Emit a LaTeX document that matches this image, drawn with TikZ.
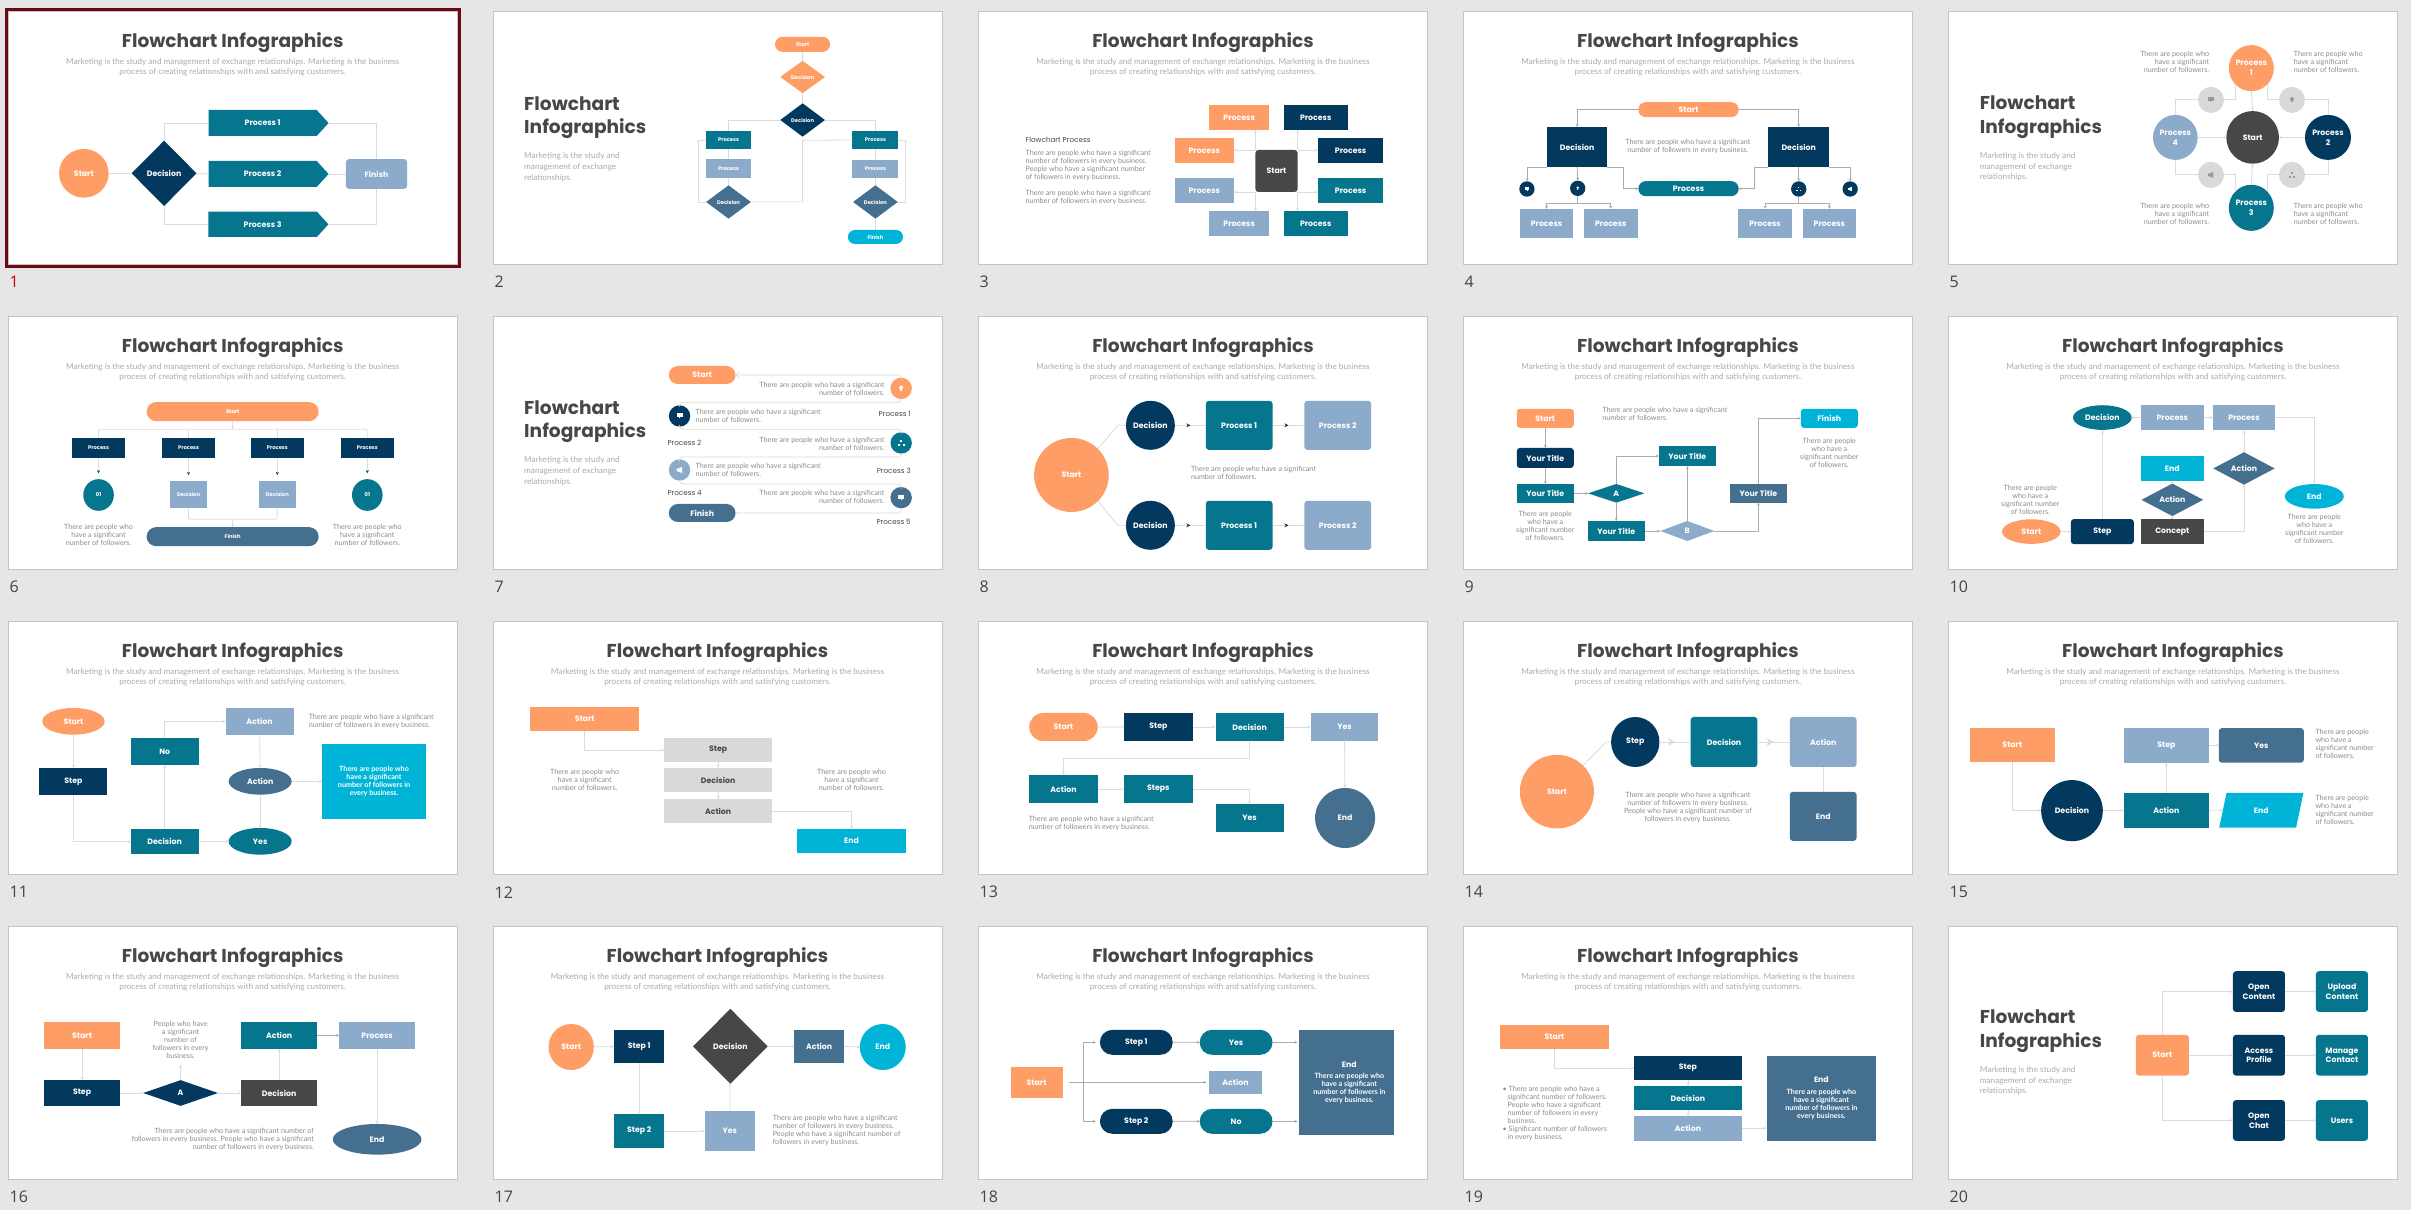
\documentclass[tikz,border=0pt]{standalone}
\usepackage{fontspec}
\usetikzlibrary{arrows.meta,shapes.geometric,shapes.misc,shapes.symbols,decorations.markings}
\newfontfamily\poppins{Poppins}
\newfontfamily\bodyfont{Lato}
\newfontfamily\numfont{Open Sans}
\definecolor{orangeb}{HTML}{FF9D66}
\definecolor{navyb}{HTML}{03395E}
\definecolor{tealb}{HTML}{06758E}
\definecolor{blueb}{HTML}{8CABCB}
\definecolor{slateb}{HTML}{456F8F}
\definecolor{cyanb}{HTML}{00B4D8}
\definecolor{darkb}{HTML}{474747}
\definecolor{greyb}{HTML}{D9D9D9}
\definecolor{lineg}{HTML}{DCDCDC}
\definecolor{lined}{HTML}{ABABAB}
\definecolor{noteg}{HTML}{8C8C8C}
\definecolor{subg}{HTML}{ABABAB}
\definecolor{bgg}{HTML}{E6E6E6}
\definecolor{numg}{HTML}{444444}
\definecolor{redn}{HTML}{C00000}
\definecolor{selred}{HTML}{6B0A12}
\newcommand{\ttltxt}{Flowchart Infographics}
\newcommand{\ttlleft}{Flowchart\\Infographics}
\newcommand{\subtxt}{Marketing is the study and management of exchange relationships. Marketing is the business\\process of creating relationships with and satisfying customers.}
\newcommand{\subleft}{Marketing is the study and\\management of exchange\\relationships.}
\newcommand{\txwide}{There are people who have a significant\\number of followers.}
\newcommand{\txbus}{There are people who have a significant\\number of followers in every business.}
\newcommand{\txfour}{There are people\\who have a\\significant number\\of followers.}
\newcommand{\txthree}{There are people who\\have a significant\\number of followers.}
\newcommand{\txbox}{There are people who\\have a significant\\number of followers in\\every business.}
\tikzset{
	block/.style={inner sep=0,outer sep=0,align=center,text=white,font=\poppins\bfseries\fontsize{7.8}{9.8}\selectfont},
	small/.style={font=\poppins\bfseries\fontsize{5.2}{7}\selectfont},
	box/.style={block,fill=#1},
	round/.style={block,fill=#1,rounded corners=3pt},
	pill/.style={block,fill=#1,rounded rectangle},
	circ/.style={block,fill=#1,ellipse},
	dmd/.style={block,fill=#1,diamond},
	sgn/.style={block,fill=#1,signal,signal to=east,signal pointer angle=95},
	sz/.style 2 args={minimum width=#1*.6122pt,minimum height=#2*.3333pt},
	szb/.style 2 args={minimum width=#1*.3333pt,minimum height=#2*.3843pt},
	panela/.style={x=.6122pt,y=-.3333pt},
	panelb/.style={x=.3333pt,y=-.3827pt},
	panelc/.style={x=.3333pt,y=-.3858pt},
	ln/.style={draw=lineg,line width=.8pt},
	lnd/.style={draw=lined,line width=.8pt},
	ar/.style={ln,-{Stealth[length=3pt,width=3pt]}},
	ard/.style={lnd,-{Stealth[length=3pt,width=3pt]}},
	midtip/.style={ln,postaction={decorate},decoration={markings,mark=at position .5 with {\arrow{Stealth[length=4pt,width=4pt,color=navyb]}}}},
	bigtip/.style={ln,postaction={decorate},decoration={markings,mark=at position .5 with {\arrow{Stealth[length=7pt,width=8pt,color=lineg]}}}},
	ttl/.style={inner sep=0,yshift=-1.4pt,text=darkb,font=\poppins\bfseries\fontsize{18.6}{23.4}\selectfont},
	ttll/.style={ttl,align=left,anchor=west},
	subt/.style={inner sep=0,align=center,text=subg,font=\bodyfont\fontsize{8.2}{10}\selectfont},
	subl/.style={inner sep=0,align=left,anchor=west,text=subg,font=\bodyfont\fontsize{8.2}{10.7}\selectfont},
	note/.style={inner sep=0,align=center,text=noteg,font=\bodyfont\fontsize{7.2}{8}\selectfont},
	notel/.style={note,align=left,anchor=west},
	noter/.style={note,align=right,anchor=east},
	dlab/.style={inner sep=0,text=darkb,font=\poppins\fontsize{7.2}{8}\selectfont},
	slide/.style={inner sep=0,outer sep=0,fill=white,draw=black!23,line width=.8pt,minimum width=449pt,minimum height=252.5pt},
	screenic/.pic={\fill (-3pt,-1pt) rectangle (3pt,2.5pt); \fill (-.5pt,-2.5pt) rectangle (.5pt,-1pt);},
	bulbic/.pic={\fill (0,.8pt) circle (2pt); \fill (-1pt,-2.5pt) rectangle (1pt,-.8pt);},
	treeic/.pic={\fill (-1pt,1pt) rectangle (1pt,3pt); \fill (-3.4pt,-3pt) rectangle (-1.4pt,-1pt); \fill (1.4pt,-3pt) rectangle (3.4pt,-1pt);},
	megaic/.pic={\fill (-3pt,-1pt) -- (2.5pt,-3pt) -- (2.5pt,3pt) -- (-3pt,1pt) -- cycle;},
}
\begin{document}
\begin{tikzpicture}[x=1pt,y=-1pt]
	\useasboundingbox (0,0) rectangle (2411,1210);
	\fill[bgg] (0,0) rectangle (2411,1210);
	% the slide sheets and their numbers
	\foreach \r in {0,...,3} {
		\foreach \c in {0,...,4} {
			\pgfmathtruncatemacro{\n}{\r*5+\c+1}
			\pgfmathsetmacro{\sx}{8.5+485*\c}
			\pgfmathsetmacro{\sy}{11.7+305*\r}
			\edef\pgcol{\ifnum\n=1 redn\else numg\fi}
			\node (pg\n) [slide] at (\sx+224.5,\sy+126.25) {};
			\node (nm\n) [inner sep=0,anchor=west,text=\pgcol,font=\numfont\fontsize{16}{18}\selectfont] at (\sx+1,\sy+270.5) {\n};
		}
	}
	\node (sel) [inner sep=0,draw=selred,line width=2.5pt,minimum width=453pt,minimum height=257pt] at (pg1) {};

	% slides 1 and 2
	\begin{scope}[shift={(0,0)},panela]
		\node (t1) [ttl] at (380,125) {\ttltxt};
		\node (u1) [subt] at (380,202) {\subtxt};
		\node (s1start) [circ=orangeb,sz={81}{146}] at (137,520) {Start};
		\node (s1dec) [dmd=navyb,sz={106}{196}] at (268,520) {Decision};
		\node (s1a) [sgn=tealb,sz={196}{78}] at (429,369) {Process 1};
		\node (s1b) [sgn=tealb,sz={196}{78}] at (429,522) {Process 2};
		\node (s1c) [sgn=tealb,sz={196}{76}] at (429,673) {Process 3};
		\node (s1end) [round=blueb,sz={100}{89}] at (615,522) {Finish};
		\draw [ln] (s1start) -- (s1dec);
		\draw [ln] (s1dec.north) |- (s1a.west);
		\draw [ln] (s1dec.east) -- (s1b.west);
		\draw [ln] (s1dec.south) |- (s1c.west);
		\draw [ln] (s1a.east) -| (s1end.north);
		\draw [ln] (s1b.east) -- (s1end.west);
		\draw [ln] (s1c.east) -| (s1end.south);

		\node (t2) [ttll] at (856,349) {\ttlleft};
		\node (u2) [subl] at (856,501) {\subleft};
		\node (s2start) [pill=orangeb,small,sz={90}{45}] at (1311,133) {Start};
		\node (s2d1) [dmd=orangeb,small,sz={73}{97}] at (1311,231) {Decision};
		\node (s2d2) [dmd=navyb,small,sz={73}{100}] at (1311,360) {Decision};
		\node (s2a1) [box=tealb,small,sz={75}{54}] at (1190,420) {Process};
		\node (s2a2) [box=blueb,small,sz={75}{57}] at (1190,505) {Process};
		\node (s2a3) [dmd=slateb,small,sz={73}{100}] at (1190,606) {Decision};
		\node (s2b1) [box=tealb,small,sz={75}{54}] at (1430,420) {Process};
		\node (s2b2) [box=blueb,small,sz={75}{55}] at (1430,507) {Process};
		\node (s2b3) [dmd=slateb,small,sz={73}{100}] at (1430,606) {Decision};
		\node (s2end) [pill=cyanb,small,sz={90}{42}] at (1430,711) {Finish};
		\coordinate (s2j) at (1311,421);
		\draw [ln] (s2start) -- (s2d1);
		\draw [ln] (s2d1) -- (s2d2);
		\draw [ln] (s2d2.west) -| (s2a1.north);
		\draw [ln] (s2d2.east) -| (s2b1.north);
		\draw [ln] (s2a1) -- (s2a2);
		\draw [ln] (s2a2) -- (s2a3);
		\draw [ln] (s2b1) -- (s2b2);
		\draw [ln] (s2b2) -- (s2b3);
		\draw [ln] (s2b3) -- (s2end);
		\draw [ln] (s2a3.east) -| (s2j) -- (s2b1.west);
		\draw [ln] (s2a3.west) -- ++(-13,0) |- (s2a1.west);
		\draw [ln] (s2b3.east) -- ++(13,0) |- (s2b1.east);
	\end{scope}

	% slides 3 and 4
	\begin{scope}[shift={(960,0)},panela]
		\node (t3) [ttl] at (397,125) {\ttltxt};
		\node (u3) [subt] at (397,202) {\subtxt};
		\node (s3h) [dlab,anchor=west] at (107,421) {Flowchart Process};
		\node (s3n1) [notel] at (107,497) {There are people who have a significant\\number of followers in every business.\\People who have a significant number\\of followers in every business.};
		\node (s3n2) [notel] at (107,593) {\txbus};
		\node (s3start) [round=darkb,sz={69}{126}] at (517,513) {Start};
		\node (s3a) [box=orangeb,sz={98}{75}] at (456,352) {Process};
		\node (s3b) [box=navyb,sz={105}{75}] at (581,352) {Process};
		\node (s3c) [box=orangeb,sz={97}{75}] at (399,451) {Process};
		\node (s3d) [box=navyb,sz={105}{75}] at (638,451) {Process};
		\node (s3e) [box=blueb,sz={97}{77}] at (399,572) {Process};
		\node (s3f) [box=tealb,sz={105}{77}] at (638,572) {Process};
		\node (s3g) [box=blueb,sz={98}{74}] at (456,670) {Process};
		\node (s3i) [box=tealb,sz={105}{74}] at (581,670) {Process};
		\draw [ar] (s3start.north west) -- (s3start.north west |- s3a.south);
		\draw [ar] (s3start.north east) -- (s3start.north east |- s3b.south);
		\draw [ar] (s3start.north west) -- (s3c.east |- s3start.north west);
		\draw [ar] (s3start.north east) -- (s3d.west |- s3start.north east);
		\draw [ar] (s3start.south west) -- (s3e.east |- s3start.south west);
		\draw [ar] (s3start.south east) -- (s3f.west |- s3start.south east);
		\draw [ar] (s3start.south west) -- (s3start.south west |- s3g.north);
		\draw [ar] (s3start.south east) -- (s3start.south east |- s3i.north);

		\node (t4) [ttl] at (1189,125) {\ttltxt};
		\node (u4) [subt] at (1189,202) {\subtxt};
		\node (s4start) [pill=orangeb,sz={164}{45}] at (1190,329) {Start};
		\node (s4dl) [box=navyb,sz={99}{120}] at (1008,441) {Decision};
		\node (s4dr) [box=navyb,sz={99}{120}] at (1370,441) {Decision};
		\node (s4n) [note] at (1189,440) {\txbus};
		\node (s4proc) [pill=tealb,sz={164}{45}] at (1190,566) {Process};
		\node (s4i1) [circ=navyb,sz={25}{46}] at (926,567) {};
		\node (s4i2) [circ=navyb,sz={25}{46}] at (1009,565) {};
		\node (s4i3) [circ=navyb,sz={25}{46}] at (1370,567) {};
		\node (s4i4) [circ=navyb,sz={25}{46}] at (1454,567) {};
		\pic [white,scale=.7] at (s4i1) {screenic};
		\pic [white,scale=.7] at (s4i2) {bulbic};
		\pic [white,scale=.7] at (s4i3) {treeic};
		\pic [white,scale=.7] at (s4i4) {megaic};
		\node (s4b1) [box=blueb,sz={86}{89}] at (958,671) {Process};
		\node (s4b2) [box=blueb,sz={88}{89}] at (1063,671) {Process};
		\node (s4b3) [box=blueb,sz={88}{89}] at (1315,671) {Process};
		\node (s4b4) [box=blueb,sz={86}{89}] at (1420,671) {Process};
		\coordinate (s4j1) at (1009,610);
		\coordinate (s4j2) at (1370,610);
		\draw [ard] (s4start.west) -| (s4dl.north);
		\draw [ard] (s4start.east) -| (s4dr.north);
		\draw [ard] (s4dl.south west) -| (s4i1.north);
		\draw [ard] (s4dl.south) -- (s4i2.north);
		\draw [ard] (s4dl.south east) -- ++(26,0) |- (s4proc.west);
		\draw [ard] (s4dr.south west) -- ++(-23,0) |- (s4proc.east);
		\draw [ard] (s4dr.south) -- (s4i3.north);
		\draw [ard] (s4dr.south east) -| (s4i4.north);
		\draw [lnd] (s4i2.south) -- (s4j1);
		\draw [lnd] (s4i3.south) -- (s4j2);
		\draw [ard] (s4j1) -| (s4b1.north);
		\draw [ard] (s4j1) -| (s4b2.north);
		\draw [ard] (s4j2) -| (s4b3.north);
		\draw [ard] (s4j2) -| (s4b4.north);
	\end{scope}

	% slides 5 and 10
	\begin{scope}[shift={(1900,0)},panelb]
		\node (t5) [ttll] at (239,302) {\ttlleft};
		\node (u5) [subl] at (239,436) {\subleft};
		\node (s5start) [circ=darkb,szb={158}{137}] at (1058,359) {Start};
		\node (s5a) [circ=orangeb,szb={135}{120}] at (1054,178) {Process\\1};
		\node (s5b) [circ=navyb,szb={138}{117}] at (1284,359) {Process\\2};
		\node (s5c) [circ=tealb,szb={135}{120}] at (1054,543) {Process\\3};
		\node (s5d) [circ=blueb,szb={134}{117}] at (826,359) {Process\\4};
		\node (s5i1) [circ=greyb,szb={78}{68}] at (933,261) {};
		\node (s5i2) [circ=greyb,szb={78}{68}] at (1176,261) {};
		\node (s5i3) [circ=greyb,szb={78}{68}] at (933,457) {};
		\node (s5i4) [circ=greyb,szb={78}{68}] at (1176,457) {};
		\pic [black!40] at (s5i1) {screenic};
		\pic [black!40] at (s5i2) {bulbic};
		\pic [black!40] at (s5i3) {megaic};
		\pic [black!40] at (s5i4) {treeic};
		\node (s5n1) [noter] at (928,161) {\txthree};
		\node (s5n2) [notel] at (1181,161) {\txthree};
		\node (s5n3) [noter] at (928,558) {\txthree};
		\node (s5n4) [notel] at (1181,558) {\txthree};
		\draw [ar] (s5a.south) -- (s5start.north);
		\draw [ar] (s5c.north) -- (s5start.south);
		\draw [ar] (s5b.west) -- (s5start.east);
		\draw [ar] (s5d.east) -- (s5start.west);
		\draw [ln] (s5a.south west) |- (s5i1.east);
		\draw [ln] (s5i1.west) -| (s5d.north);
		\draw [ln] (s5a.south east) |- (s5i2.west);
		\draw [ln] (s5i2.east) -| (s5b.north);
		\draw [ln] (s5c.north west) |- (s5i3.east);
		\draw [ln] (s5i3.west) -| (s5d.south);
		\draw [ln] (s5c.north east) |- (s5i4.west);
		\draw [ln] (s5i4.east) -| (s5b.south);

		\node (t10) [ttl] at (819,905) {\ttltxt};
		\node (u10) [subt] at (819,972) {\subtxt};
		\node (s10dec) [circ=tealb,szb={176}{64}] at (607,1091) {Decision};
		\node (s10p1) [box=blueb,szb={189}{66}] at (817,1091) {Process};
		\node (s10p2) [box=blueb,szb={186}{66}] at (1032,1091) {Process};
		\node (s10e1) [box=cyanb,szb={189}{65}] at (817,1224) {End};
		\node (s10a1) [dmd=slateb,szb={184}{65}] at (1032,1224) {Action};
		\node (s10a2) [dmd=slateb,szb={185}{67}] at (817,1306) {Action};
		\node (s10con) [box=darkb,szb={189}{65}] at (817,1389) {Concept};
		\node (s10step) [round=navyb,szb={189}{65}] at (607,1389) {Step};
		\node (s10start) [circ=orangeb,szb={176}{64}] at (394,1389) {Start};
		\node (s10e2) [circ=cyanb,szb={177}{64}] at (1243,1297) {End};
		\node (s10n1) [note] at (391,1305) {\txfour};
		\node (s10n2) [note] at (1243,1381) {\txfour};
		\draw [ar] (s10start) -- (s10step);
		\draw [ar] (s10step) -- (s10dec);
		\draw [ar] (s10p1) -- (s10dec);
		\draw [ar] (s10p1) -- (s10p2);
		\draw [ar] (s10p2.east) -| (s10e2.north);
		\draw [ar] (s10con.east) -| (s10a1.south);
		\draw [ar] (s10a1) -- (s10p2);
		\draw [ar] (s10con) -- (s10a2);
		\draw [ar] (s10a2) -- (s10e1);
	\end{scope}

	% slides 6 and 7
	\begin{scope}[shift={(0,300)},panela]
		\node (t6) [ttl] at (380,140) {\ttltxt};
		\node (u6) [subt] at (380,217) {\subtxt};
		\node (s6start) [pill=orangeb,small,sz={281}{57}] at (380,335) {Start};
		\node (s6a) [box=navyb,small,sz={86}{60}] at (161,444) {Process};
		\node (s6b) [box=navyb,small,sz={86}{60}] at (308,444) {Process};
		\node (s6c) [box=navyb,small,sz={87}{60}] at (453,444) {Process};
		\node (s6d) [box=navyb,small,sz={87}{60}] at (600,444) {Process};
		\node (s6e) [circ=tealb,small,sz={50}{95}] at (161,585) {01};
		\node (s6f) [box=blueb,small,sz={60}{80}] at (308,583) {Decision};
		\node (s6g) [box=blueb,small,sz={60}{80}] at (453,583) {Decision};
		\node (s6h) [circ=tealb,small,sz={50}{95}] at (600,585) {01};
		\node (s6end) [pill=slateb,small,sz={281}{57}] at (380,710) {Finish};
		\node (s6n1) [note] at (161,704) {\txthree};
		\node (s6n2) [note] at (600,704) {\txthree};
		\coordinate (s6j1) at (380,388);
		\coordinate (s6j2) at (380,658);
		\draw [ar] (s6start.south) -- (s6j1);
		\draw [ln,rounded corners=2pt] (s6j1) -| (s6a.north);
		\draw [ln] (s6b.north |- s6j1) -- (s6b.north);
		\draw [ln] (s6c.north |- s6j1) -- (s6c.north);
		\draw [ln,rounded corners=2pt] (s6j1) -| (s6d.north);
		\foreach \u/\v in {a/e,b/f,c/g,d/h} {
			\draw [ln,shorten >=6pt,-{Stealth[length=3pt,width=3pt,color=navyb]}] (s6\u.south) -- (s6\v.north);
		}
		\draw [ln,rounded corners=2pt] (s6f.south) |- (s6j2);
		\draw [ln,rounded corners=2pt] (s6g.south) |- (s6j2);
		\draw [ar] (s6j2) -- (s6end.north);

		\node (t7) [ttll] at (856,361) {\ttlleft};
		\node (u7) [subl] at (856,513) {\subleft};
		\node (s7start) [pill=orangeb,sz={109}{54}] at (1147,225) {Start};
		\node (s7end) [pill=slateb,sz={109}{54}] at (1147,639) {Finish};
		\node (s7i1) [circ=orangeb,sz={35}{64}] at (1472,265) {};
		\node (s7i2) [circ=navyb,sz={35}{64}] at (1110,348) {};
		\node (s7i3) [circ=tealb,sz={35}{64}] at (1472,429) {};
		\node (s7i4) [circ=blueb,sz={35}{64}] at (1110,510) {};
		\node (s7i5) [circ=slateb,sz={35}{64}] at (1472,593) {};
		\pic [white] at (s7i1) {bulbic};
		\pic [white] at (s7i2) {screenic};
		\pic [white] at (s7i3) {treeic};
		\pic [white] at (s7i4) {megaic};
		\pic [white] at (s7i5) {screenic};
		\node (s7n1) [noter] at (1445,266) {\txwide};
		\node (s7n2) [notel] at (1136,347) {\txwide};
		\node (s7n3) [noter] at (1445,431) {\txwide};
		\node (s7n4) [notel] at (1136,509) {\txwide};
		\node (s7n5) [noter] at (1445,590) {\txwide};
		\node (s7l1) [dlab,anchor=east] at (1488,343) {Process 1};
		\node (s7l2) [dlab,anchor=west] at (1090,430) {Process 2};
		\node (s7l3) [dlab,anchor=east] at (1488,514) {Process 3};
		\node (s7l4) [dlab,anchor=west] at (1090,580) {Process 4};
		\node (s7l5) [dlab,anchor=east] at (1488,667) {Process 5};
		\coordinate (s7w1) at (1300,307);
		\coordinate (s7w2) at (1300,388);
		\coordinate (s7w3) at (1300,471);
		\coordinate (s7w4) at (1300,552);
		\draw [ar,<-,rounded corners=3pt] (s7start.east) -| (s7i1.north);
		\draw [ln,rounded corners=3pt] (s7i1.south) |- (s7w1) -| (s7i2.north);
		\draw [ln,rounded corners=3pt] (s7i2.south) |- (s7w2) -| (s7i3.north);
		\draw [ln,rounded corners=3pt] (s7i3.south) |- (s7w3) -| (s7i4.north);
		\draw [ln,rounded corners=3pt] (s7i4.south) |- (s7w4) -| (s7i5.north);
		\draw [ar,rounded corners=3pt] (s7i5.south) |- (s7end.east);
	\end{scope}

	% slides 8 and 9
	\begin{scope}[shift={(960,300)},panela]
		\node (t8) [ttl] at (397,140) {\ttltxt};
		\node (u8) [subt] at (397,217) {\subtxt};
		\node (s8start) [circ=orangeb,sz={122}{222}] at (182,525) {Start};
		\node (s8d1) [circ=navyb,sz={80}{147}] at (311,376) {Decision};
		\node (s8d2) [circ=navyb,sz={80}{147}] at (311,676) {Decision};
		\node (s8a1) [round=tealb,sz={109}{147}] at (456,376) {Process 1};
		\node (s8a2) [round=tealb,sz={109}{147}] at (456,676) {Process 1};
		\node (s8b1) [round=blueb,sz={109}{147}] at (617,376) {Process 2};
		\node (s8b2) [round=blueb,sz={109}{147}] at (617,676) {Process 2};
		\node (s8n) [notel] at (377,520) {\txwide};
		\draw [ln] (s8start.north east) -- ([xshift=-8pt]s8d1.west) -- (s8d1.west);
		\draw [ln] (s8start.south east) -- ([xshift=-8pt]s8d2.west) -- (s8d2.west);
		\draw [midtip] (s8d1) -- (s8a1);
		\draw [midtip] (s8a1) -- (s8b1);
		\draw [midtip] (s8d2) -- (s8a2);
		\draw [midtip] (s8a2) -- (s8b2);

		\node (t9) [ttl] at (1189,140) {\ttltxt};
		\node (u9) [subt] at (1189,217) {\subtxt};
		\node (s9start) [round=orangeb,sz={93}{57}] at (956,355) {Start};
		\node (s9y1) [round=navyb,sz={93}{60}] at (956,474) {Your Title};
		\node (s9y2) [box=tealb,sz={93}{56}] at (956,580) {Your Title};
		\node (s9a) [dmd=tealb,sz={92}{56}] at (1072,580) {A};
		\node (s9y3) [box=tealb,sz={93}{60}] at (1188,468) {Your Title};
		\node (s9y4) [box=tealb,sz={93}{60}] at (1072,693) {Your Title};
		\node (s9b) [dmd=blueb,sz={88}{60}] at (1188,693) {B};
		\node (s9y5) [box=slateb,sz={93}{56}] at (1304,580) {Your Title};
		\node (s9end) [round=cyanb,sz={93}{57}] at (1420,355) {Finish};
		\node (s9n1) [note] at (956,677) {\txfour};
		\node (s9n2) [notel] at (1049,341) {\txwide};
		\node (s9n3) [note] at (1420,458) {\txfour};
		\draw [ard] (s9start) -- (s9y1);
		\draw [ard] (s9y1) -- (s9y2);
		\draw [ard] (s9y2) -- (s9a);
		\draw [ard] (s9a.north) |- (s9y3.west);
		\draw [ard] (s9a.south) -- (s9y4.north);
		\draw [ard] (s9y4) -- (s9b);
		\draw [ard] (s9b.north) -- (s9y3.south);
		\draw [ard] (s9b.east) -| (s9y5.south);
		\draw [ard] (s9y5.north) |- (s9end.west);
	\end{scope}

	% slides 11 and 12
	\begin{scope}[shift={(0,605)},panela]
		\node (t11) [ttl] at (380,140) {\ttltxt};
		\node (u11) [subt] at (380,217) {\subtxt};
		\node (s11start) [circ=orangeb,sz={102}{80}] at (120,349) {Start};
		\node (s11step) [box=navyb,sz={111}{81}] at (120,529) {Step};
		\node (s11no) [box=tealb,sz={111}{81}] at (269,439) {No};
		\node (s11act) [box=blueb,sz={111}{81}] at (424,349) {Action};
		\node (s11ac2) [circ=slateb,sz={103}{80}] at (425,529) {Action};
		\node (s11dec) [box=tealb,sz={111}{77}] at (269,710) {Decision};
		\node (s11yes) [circ=tealb,sz={103}{80}] at (425,709) {Yes};
		\node (s11big) [box=cyanb,font=\bodyfont\bfseries\fontsize{7.2}{8}\selectfont,sz={170}{224}] at (611,529) {\txbox};
		\node (s11n) [notel] at (504,350) {\txbus};
		\draw [ar] (s11start) -- (s11step);
		\draw [ar] (s11step.south) |- (s11dec.west);
		\draw [ar] (s11dec) -- (s11no);
		\draw [ar] (s11no.north) |- (s11act.west);
		\draw [ar] (s11act) -- (s11ac2);
		\draw [ar] (s11ac2) -- (s11yes);
		\draw [ar] (s11ac2) -- (s11big);
		\draw [ar] (s11dec) -- (s11yes);

		\node (t12) [ttl] at (1172,140) {\ttltxt};
		\node (u12) [subt] at (1172,217) {\subtxt};
		\node (s12start) [box=orangeb,sz={178}{72}] at (955,342) {Start};
		\node (s12step) [box=greyb,text=darkb,sz={176}{72}] at (1173,435) {Step};
		\node (s12dec) [box=greyb,text=darkb,sz={176}{72}] at (1173,525) {Decision};
		\node (s12act) [box=greyb,text=darkb,sz={176}{72}] at (1173,618) {Action};
		\node (s12end) [box=cyanb,sz={178}{72}] at (1391,708) {End};
		\node (s12n1) [note] at (955,524) {\txthree};
		\node (s12n2) [note] at (1391,524) {\txthree};
		\draw [ar] (s12start.south) |- (s12step.west);
		\draw [ar] (s12step) -- (s12dec);
		\draw [ar] (s12dec) -- (s12act);
		\draw [ar] (s12act.east) -| (s12end.north);
	\end{scope}

	% slides 13 and 14
	\begin{scope}[shift={(960,605)},panela]
		\node (t13) [ttl] at (397,140) {\ttltxt};
		\node (u13) [subt] at (397,217) {\subtxt};
		\node (s13start) [pill=orangeb,sz={112}{84}] at (169,366) {Start};
		\node (s13step) [box=navyb,sz={113}{84}] at (324,366) {Step};
		\node (s13dec) [box=tealb,sz={111}{84}] at (473,366) {Decision};
		\node (s13yes) [box=blueb,sz={111}{84}] at (628,366) {Yes};
		\node (s13act) [box=tealb,sz={112}{84}] at (169,552) {Action};
		\node (s13sts) [box=tealb,sz={113}{84}] at (324,552) {Steps};
		\node (s13ye2) [box=tealb,sz={111}{84}] at (473,639) {Yes};
		\node (s13end) [circ=slateb,sz={98}{180}] at (629,639) {End};
		\node (s13n) [notel] at (112,656) {\txbus};
		\coordinate (s13j) at (320,460);
		\draw [ar] (s13start) -- (s13step);
		\draw [ar] (s13step) -- (s13dec);
		\draw [ar] (s13dec) -- (s13yes);
		\draw [ar] (s13dec.south) |- (s13j) -| (s13act.north);
		\draw [ar] (s13act) -- (s13sts);
		\draw [ar] (s13sts.east) -| (s13ye2.north);
		\draw [ar] (s13yes) -- (s13end);

		\node (t14) [ttl] at (1189,140) {\ttltxt};
		\node (u14) [subt] at (1189,217) {\subtxt};
		\node (s14start) [circ=orangeb,sz={121}{221}] at (975,560) {Start};
		\node (s14step) [circ=navyb,sz={79}{150}] at (1103,411) {Step};
		\node (s14dec) [round=tealb,sz={109}{150}] at (1248,411) {Decision};
		\node (s14act) [round=blueb,sz={109}{150}] at (1410,411) {Action};
		\node (s14end) [round=slateb,sz={109}{147}] at (1410,634) {End};
		\node (s14n) [note] at (1189,608) {\txbus\\People who have a significant number of\\followers in every business.};
		\draw [ln] (s14start.north east) -- ([xshift=-5pt]s14step.west) -- (s14step.west);
		\draw [bigtip] (s14step) -- (s14dec);
		\draw [bigtip] (s14dec) -- (s14act);
		\draw [ln] (s14act) -- (s14end);
	\end{scope}

	% slides 15 and 20
	\begin{scope}[shift={(1900,605)},panelc]
		\node (t15) [ttl] at (819,120) {\ttltxt};
		\node (u15) [subt] at (819,187) {\subtxt};
		\node (s15start) [box=orangeb,szb={255}{88}] at (337,363) {Start};
		\node (s15step) [box=blueb,szb={255}{90}] at (799,364) {Step};
		\node (s15yes) [round=slateb,szb={255}{90}] at (1084,364) {Yes};
		\node (s15dec) [circ=navyb,szb={185}{159}] at (516,533) {Decision};
		\node (s15act) [box=tealb,szb={255}{91}] at (799,532) {Action};
		\node (s15end) [block,fill=cyanb,trapezium,trapezium left angle=75,trapezium right angle=105,trapezium stretches=true,szb={253}{91}] at (1084,532) {End};
		\node (s15n1) [notel] at (1246,361) {\txfour};
		\node (s15n2) [notel] at (1246,532) {\txfour};
		\draw [ar] (s15start.south) |- (s15dec.west);
		\draw [ar] (s15dec) -- (s15act);
		\draw [ar] (s15act) -- (s15step);
		\draw [ar] (s15step) -- (s15yes);
		\draw [ar] (s15act) -- (s15end);

		\node (t20) [ttll] at (239,1101) {\ttlleft};
		\node (u20) [subl] at (239,1233) {\subleft};
		\node (s20start) [round=orangeb,szb={159}{106}] at (787,1167) {Start};
		\node (s20a) [round=navyb,szb={156}{106}] at (1077,1002) {Open\\Content};
		\node (s20b) [round=navyb,szb={156}{106}] at (1077,1167) {Access\\Profile};
		\node (s20c) [round=navyb,szb={156}{106}] at (1077,1336) {Open\\Chat};
		\node (s20d) [round=tealb,szb={156}{106}] at (1326,1002) {Upload\\Content};
		\node (s20e) [round=tealb,szb={156}{106}] at (1326,1167) {Manage\\Contact};
		\node (s20f) [round=tealb,szb={156}{106}] at (1326,1336) {Users};
		\draw [ar] (s20start.north) |- (s20a.west);
		\draw [ar] (s20start) -- (s20b);
		\draw [ar] (s20start.south) |- (s20c.west);
		\draw [ar] (s20a) -- (s20d);
		\draw [ar] (s20b) -- (s20e);
		\draw [ar] (s20c) -- (s20f);
	\end{scope}

	% slides 16 and 17
	\begin{scope}[shift={(0,910)},panela]
		\node (t16) [ttl] at (380,140) {\ttltxt};
		\node (u16) [subt] at (380,217) {\subtxt};
		\node (s16start) [box=orangeb,sz={124}{81}] at (134,376) {Start};
		\node (s16step) [box=navyb,sz={124}{77}] at (134,549) {Step};
		\node (s16a) [dmd=navyb,sz={122}{77}] at (295,549) {A};
		\node (s16dec) [box=darkb,sz={124}{77}] at (456,549) {Decision};
		\node (s16act) [box=tealb,sz={124}{81}] at (456,376) {Action};
		\node (s16proc) [box=blueb,sz={124}{81}] at (616,376) {Process};
		\node (s16end) [circ=slateb,sz={145}{92}] at (616,688) {End};
		\node (s16n1) [note] at (295,389) {People who have\\a significant\\number of\\followers in every\\business.};
		\node (s16n2) [noter] at (513,689) {There are people who have a significant number of\\followers in every business. People who have a significant\\number of followers in every business.};
		\coordinate (s16up) at (295,465);
		\draw [ar] (s16start) -- (s16step);
		\draw [ar] (s16step) -- (s16a);
		\draw [ar] (s16a.north) -- (s16up);
		\draw [ar] (s16a) -- (s16dec);
		\draw [ar] (s16dec) -- (s16act);
		\draw [ard] (s16act) -- (s16proc);
		\draw [ar] (s16proc) -- (s16end);

		\node (t17) [ttl] at (1172,140) {\ttltxt};
		\node (u17) [subt] at (1172,217) {\subtxt};
		\node (s17start) [circ=orangeb,sz={74}{138}] at (933,411) {Start};
		\node (s17s1) [box=navyb,sz={82}{99}] at (1044,409) {Step 1};
		\node (s17dec) [dmd=darkb,sz={122}{225}] at (1193,409) {Decision};
		\node (s17act) [box=slateb,sz={81}{99}] at (1338,409) {Action};
		\node (s17end) [circ=cyanb,sz={75}{138}] at (1442,411) {End};
		\node (s17s2) [box=tealb,sz={82}{102}] at (1044,663) {Step 2};
		\node (s17yes) [box=blueb,sz={82}{120}] at (1192,663) {Yes};
		\node (s17n) [notel] at (1262,662) {\txbus\\People who have a significant number of\\followers in every business.};
		\draw [ar] (s17start) -- (s17s1);
		\draw [ar] (s17s1) -- (s17s2);
		\draw [ar] (s17s2) -- (s17yes);
		\draw [ar] (s17yes) -- (s17dec);
		\draw [ar] (s17dec) -- (s17act);
		\draw [ar] (s17act) -- (s17end);
	\end{scope}

	% slides 18 and 19
	\begin{scope}[shift={(960,910)},panela]
		\node (t18) [ttl] at (397,140) {\ttltxt};
		\node (u18) [subt] at (397,217) {\subtxt};
		\node (s18start) [box=orangeb,sz={85}{93}] at (125,517) {Start};
		\node (s18s1) [pill=navyb,sz={119}{75}] at (288,397) {Step 1};
		\node (s18y) [pill=tealb,sz={119}{75}] at (451,397) {Yes};
		\node (s18act) [box=blueb,sz={85}{69}] at (450,517) {Action};
		\node (s18s2) [pill=navyb,sz={119}{75}] at (288,634) {Step 2};
		\node (s18no) [pill=tealb,sz={119}{75}] at (451,634) {No};
		\node (s18end) [box=slateb,sz={155}{314}] at (632,517) {};
		\node (s18h) [text=white,inner sep=0,font=\poppins\bfseries\fontsize{7.8}{9}\selectfont] at (636,463) {End};
		\node (s18n) [note,text=white,font=\bodyfont\bfseries\fontsize{7.2}{8}\selectfont] at (636,536) {\txbox};
		\coordinate (s18j) at (202,517);
		\draw [ard,shorten <=6pt,shorten >=3pt] (s18start) -- (s18act);
		\draw [ard,shorten >=4pt] (s18j) |- (s18s1.west);
		\draw [ard,shorten >=4pt] (s18j) |- (s18s2.west);
		\draw [ard] (s18s1) -- (s18y);
		\draw [ard] (s18s2) -- (s18no);
		\draw [ard,shorten >=2pt] (s18y.east) -- (s18end.west |- s18y.east);
		\draw [ard,shorten >=2pt] (s18no.east) -- (s18end.west |- s18no.east);

		\node (t19) [ttl] at (1189,140) {\ttltxt};
		\node (u19) [subt] at (1189,217) {\subtxt};
		\node (s19start) [box=orangeb,sz={178}{72}] at (971,381) {Start};
		\node (s19step) [box=navyb,sz={176}{72}] at (1189,474) {Step};
		\node (s19dec) [box=tealb,sz={176}{72}] at (1189,564) {Decision};
		\node (s19act) [box=blueb,sz={176}{74}] at (1189,655) {Action};
		\node (s19end) [box=slateb,sz={178}{254}] at (1407,565) {};
		\node (s19h) [text=white,inner sep=0,font=\poppins\bfseries\fontsize{7.8}{9}\selectfont] at (1407,510) {End};
		\node (s19n) [note,text=white,font=\bodyfont\bfseries\fontsize{7.2}{8}\selectfont] at (1407,584) {\txbox};
		\node (s19l) [notel] at (886,611) {• There are people who have a\\\hspace*{5pt}significant number of followers.\\\hspace*{5pt}People who have a significant\\\hspace*{5pt}number of followers in every\\\hspace*{5pt}business.\\• Significant number of followers\\\hspace*{5pt}in every business.};
		\draw [ar] (s19start.south) |- (s19step.west);
		\draw [ar] (s19step) -- (s19dec);
		\draw [ar] (s19dec) -- (s19act);
		\draw [ar] (s19act.east) -- (s19end.west |- s19act.east);
	\end{scope}
\end{tikzpicture}
\end{document}
